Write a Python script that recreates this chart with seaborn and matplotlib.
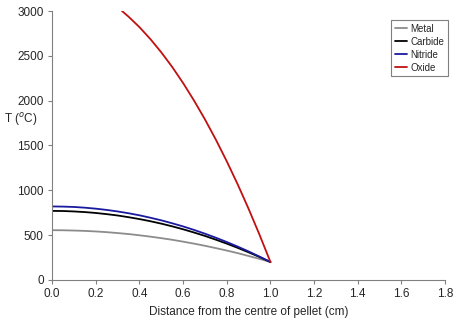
import matplotlib
matplotlib.use("Agg")
import matplotlib.pyplot as plt
import seaborn as sns
import pandas as pd

r = [0.00, 0.05, 0.10, 0.15, 0.20, 0.25, 0.30, 0.35, 0.40, 0.45, 0.50,
     0.55, 0.60, 0.65, 0.70, 0.75, 0.80, 0.85, 0.90, 0.95, 1.00]
metal = [555, 554, 551, 547, 541, 533, 523, 512, 498, 483, 466,
         448, 427, 405, 381, 355, 328, 299, 267, 235, 200]
carbide = [770, 769, 764, 757, 747, 734, 719, 700, 679, 655, 628,
           598, 565, 529, 491, 449, 405, 358, 308, 256, 200]
nitride = [820, 818, 814, 806, 795, 781, 764, 744, 721, 694, 665,
           632, 597, 558, 516, 471, 423, 372, 318, 260, 200]
r_oxide = [0.32, 0.35, 0.40, 0.45, 0.50, 0.55, 0.60, 0.65, 0.70, 0.75,
           0.80, 0.85, 0.90, 0.95, 1.00]
oxide = [3000, 2937, 2820, 2687, 2539, 2376, 2196, 2001, 1791, 1565,
         1323, 1066, 793, 504, 200]

names = ["Metal", "Carbide", "Nitride", "Oxide"]
colors = ["#8c8c8c", "#000000", "#1a1aa0", "#c01010"]

frames = []
for name, xs, ys in [("Metal", r, metal), ("Carbide", r, carbide),
                     ("Nitride", r, nitride), ("Oxide", r_oxide, oxide)]:
    frames.append(pd.DataFrame({"r": xs, "T": ys, "Material": name}))
df = pd.concat(frames, ignore_index=True)

sns.set_style("ticks")
plt.rcParams["font.family"] = ["Liberation Sans", "DejaVu Sans"]

fig = plt.figure(figsize=(4.74, 3.24), dpi=100)
ax = fig.add_axes([0.110, 0.136, 0.829, 0.830])
sns.lineplot(data=df, x="r", y="T", hue="Material", hue_order=names,
             palette=dict(zip(names, colors)), linewidth=1.3, ax=ax,
             sort=False, estimator=None)

ax.set_xlim(0, 1.8)
ax.set_ylim(0, 3000)
ax.set_xticks([0.0, 0.2, 0.4, 0.6, 0.8, 1.0, 1.2, 1.4, 1.6, 1.8])
ax.set_xticklabels([f"{v:.1f}" for v in ax.get_xticks()])
ax.set_yticks([0, 500, 1000, 1500, 2000, 2500, 3000])
ax.tick_params(labelsize=8.5, length=3, width=0.8, color="#808080", pad=3)
for s in ["top", "right"]:
    ax.spines[s].set_visible(False)
for s in ["left", "bottom"]:
    ax.spines[s].set_color("#808080")
    ax.spines[s].set_linewidth(0.8)

ax.set_xlabel("Distance from the centre of pellet (cm)", fontsize=8.5, labelpad=4)
ax.set_ylabel("T ($^{o}$C)", fontsize=8.5, rotation=0)
ax.yaxis.set_label_coords(-0.080, 0.565)

leg = ax.legend(loc="upper right", bbox_to_anchor=(1.02, 0.985), fontsize=7,
                frameon=True, fancybox=False, handlelength=1.3,
                handletextpad=0.3, borderpad=0.4, labelspacing=0.3,
                title=None)
leg.get_frame().set_edgecolor("#606060")
leg.get_frame().set_linewidth(0.8)

fig.savefig("out.png", dpi=100)
